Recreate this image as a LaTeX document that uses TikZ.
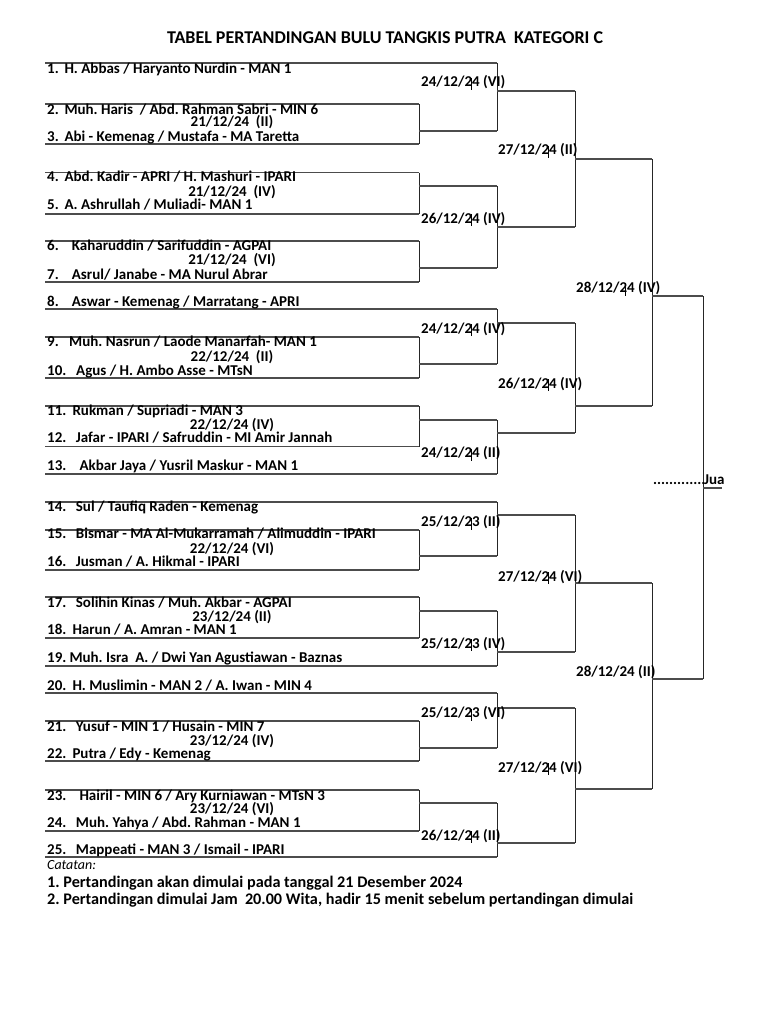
\documentclass[tikz,border=0pt]{standalone}
\usepackage{fontspec}
\setmainfont{Carlito}
\frenchspacing
\newcommand\player[4]{%
  \node[pl] (num#1) at (47,#2+5) {#1.};
  \node[pl] (nm#1) at (#3,#2+5) {#4};}
\newcommand\boxdate[3]{\node[dt] (bd#1) at (232,#2+5) {#3};}
\newcommand\rdate[4]{\node[rd] (#1) at (#2,#3+5) {#4};}
\begin{document}
\begin{tikzpicture}[x=1pt,y=-1pt,
  hl/.style={draw=black!70, line width=1.1pt},
  vl/.style={draw=black!85, line width=0.9pt},
  tk/.style={draw=black, line width=0.7pt},
  pl/.style={anchor=base west, inner sep=0pt, font=\bfseries\fontsize{15}{17}\selectfont},
  dt/.style={anchor=base, inner sep=0pt, font=\bfseries\fontsize{15}{17}\selectfont},
  rd/.style={anchor=base west, inner sep=0pt, font=\bfseries\fontsize{15}{17}\selectfont},
  nt/.style={anchor=base west, inner sep=0pt, font=\bfseries\fontsize{16.2}{18}\selectfont}]
\useasboundingbox[fill=white] (0,0) rectangle (768,1024);

\node[inner sep=0pt, font=\bfseries\fontsize{18}{20}\selectfont] (title) at (385,38) {TABEL PERTANDINGAN BULU TANGKIS PUTRA \ KATEGORI C};

% ---------- first-round lines (rows and boxes) ----------
\foreach \y in {63,309,474,502,666,693,857}{\draw[hl] (45,\y) -- (497,\y);}
\foreach \t/\b in {104/144,172.7/214,241/282,337/378,406/446.5,530/570,597/638,721/761,790/831}{
  \draw[hl] (45,\t) -- (419,\t);
  \draw[hl] (45,\b) -- (419,\b);
  \draw[vl] (419,\t) -- (419,\b);}
% box outlets to x=497
\foreach \y in {131,186,268,364,420,556,611,748,803}{\draw[hl] (419,\y) -- (497,\y);}
% verticals at x=497
\foreach \a/\b in {63/131,186/268,309/364,420/474,502/556,611/666,693/748,803/857}{\draw[vl] (497,\a) -- (497,\b);}
% second round horizontals to 575
\foreach \y in {91,227,323,433,515,652,708,843}{\draw[hl] (497,\y) -- (575,\y);}
\foreach \a/\b in {91/227,323/433,515/652,708/843}{\draw[vl] (575,\a) -- (575,\b);}
% third round to 652
\foreach \y in {159,406,583,789}{\draw[hl] (575,\y) -- (652,\y);}
\draw[vl] (652,159) -- (652,406);
\draw[vl] (652,583) -- (652,789);
% semifinal to 703
\draw[hl] (652,296) -- (703,296);
\draw[hl] (652,679) -- (703,679);
\draw[vl] (703,296) -- (703,679);

% final
\node[anchor=base west, inner sep=0pt, font=\bfseries\fontsize{15}{17}\selectfont] (dots) at (653,484) {.............};
\node[anchor=base west, inner sep=0pt, font=\bfseries\fontsize{15}{17}\selectfont] (jua) at (704,484) {Jua};
\draw[hl] (703,488) -- (722,488);

% ---------- players ----------
\player{1}{68.3}{64.3}{H. Abbas / Haryanto Nurdin - MAN 1}
\player{2}{109.3}{64.3}{Muh. Haris \ / Abd. Rahman Sabri - MIN 6}
\player{3}{136.7}{64.3}{Abi - Kemenag / Mustafa - MA Taretta}
\player{4}{176.7}{64.3}{Abd. Kadir - APRI / H. Mashuri - IPARI}
\player{5}{205}{64.3}{A. Ashrullah / Muliadi- MAN 1}
\player{6}{245}{71.7}{Kaharuddin / Sarifuddin - AGPAI}
\player{7}{274}{71.7}{Asrul/ Janabe - MA Nurul Abrar}
\player{8}{301.7}{71.7}{Aswar - Kemenag / Marratang - APRI}
\player{9}{341.7}{69}{Muh. Nasrun / Laode Manarfah- MAN 1}
\player{10}{370}{76}{Agus / H. Ambo Asse - MTsN}
\player{11}{410}{72.3}{Rukman / Supriadi - MAN 3}
\player{12}{437.3}{75.7}{Jafar - IPARI / Safruddin - MI Amir Jannah}
\player{13}{465}{79.3}{Akbar Jaya / Yusril Maskur - MAN 1}
\player{14}{506.7}{75.7}{Sul / Taufiq Raden - Kemenag}
\player{15}{533.3}{75.7}{Bismar - MA Al-Mukarramah / Alimuddin - IPARI}
\player{16}{561.7}{75.7}{Jusman / A. Hikmal - IPARI}
\player{17}{602.7}{75.7}{Solihin Kinas / Muh. Akbar - AGPAI}
\player{18}{629.3}{72.3}{Harun / A. Amran - MAN 1}
\player{19}{657.3}{69.3}{Muh. Isra \ A. / Dwi Yan Agustiawan - Baznas}
\player{20}{685}{72.3}{H. Muslimin - MAN 2 / A. Iwan - MIN 4}
\player{21}{726.7}{75.7}{Yusuf - MIN 1 / Husain - MIN 7}
\player{22}{753.3}{72.3}{Putra / Edy - Kemenag}
\player{23}{795}{79.3}{Hairil - MIN 6 / Ary Kurniawan - MTsN 3}
\player{24}{822.7}{75.7}{Muh. Yahya / Abd. Rahman - MAN 1}
\player{25}{849.3}{75.7}{Mappeati - MAN 3 / Ismail - IPARI}

% ---------- box dates ----------
\boxdate{a}{122}{21/12/24 \ (II)}
\boxdate{b}{191.7}{21/12/24 \ (IV)}
\boxdate{c}{259}{21/12/24 \ (VI)}
\boxdate{d}{356.7}{22/12/24 \ (II)}
\boxdate{e}{424}{22/12/24 (IV)}
\boxdate{f}{548}{22/12/24 (VI)}
\boxdate{g}{616.7}{23/12/24 (II)}
\boxdate{h}{740}{23/12/24 (IV)}
\boxdate{i}{808.3}{23/12/24 (VI)}

% ---------- round dates ----------
\rdate{r2a}{421}{82}{24/12/24 (VI)}
\rdate{r2b}{421}{218}{26/12/24 (IV)}
\rdate{r2c}{421}{328}{24/12/24 (IV)}
\rdate{r2d}{421}{452.7}{24/12/24 (II)}
\rdate{r2e}{421}{521.7}{25/12/23 (II)}
\rdate{r2f}{421}{643}{25/12/23 (IV)}
\rdate{r2g}{421}{712.7}{25/12/23 (VI)}
\rdate{r2h}{421}{835}{26/12/24 (II)}
\foreach \y in {82,218,328,452.7,521.7,643,712.7,835}{\draw[tk] (471,\y-4) -- (471,\y+8);}
\rdate{r3a}{498}{150}{27/12/24 (II)}
\rdate{r3b}{498}{383}{26/12/24 (IV)}
\rdate{r3c}{498}{576}{27/12/24 (VI)}
\rdate{r3d}{498}{767}{27/12/24 (VI)}
\foreach \y in {150,383,576,767}{\draw[tk] (548,\y-4) -- (548,\y+8);}
\rdate{r4a}{576}{287}{28/12/24 (IV)}
\draw[tk] (625.7,283) -- (625.7,296);
\rdate{r4b}{576}{671}{28/12/24 (II)}

% ---------- notes ----------
\node[anchor=base west, inner sep=0pt, font=\itshape\fontsize{14}{16}\selectfont] (cat) at (47,869) {Catatan:};
\node[nt] (note1) at (47,887) {1. Pertandingan akan dimulai pada tanggal 21 Desember 2024};
\node[nt] (note2) at (47,904) {2. Pertandingan dimulai Jam \ 20.00 Wita, hadir 15 menit sebelum pertandingan dimulai};
\end{tikzpicture}
\end{document}
